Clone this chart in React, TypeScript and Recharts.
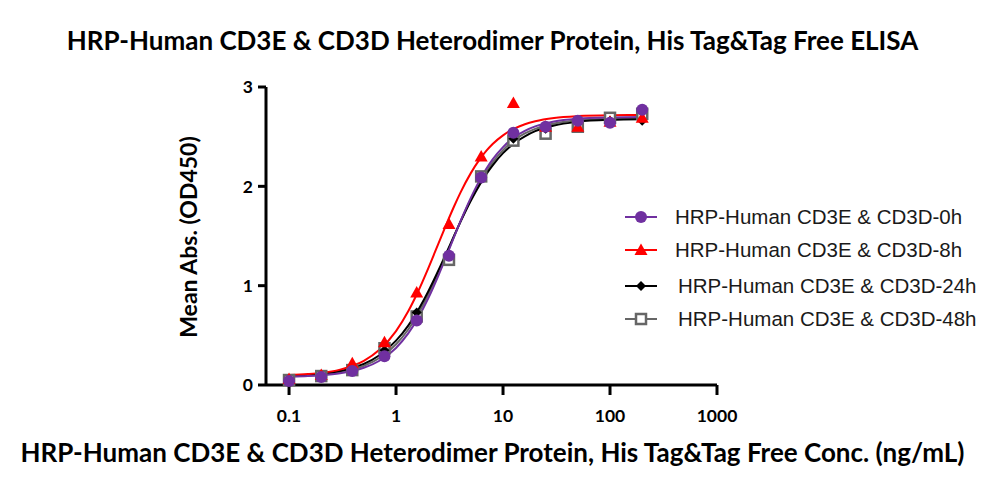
import {
  ComposedChart,
  Line,
  Scatter,
  XAxis,
  YAxis,
  Legend,
} from 'recharts'

// concentrations (ng/mL), 2-fold dilutions
const conc = [0.1, 0.2, 0.39, 0.78, 1.56, 3.125, 6.25, 12.5, 25, 50, 100, 200]

// measured mean OD450
const od0h = [0.04, 0.08, 0.14, 0.29, 0.65, 1.3, 2.09, 2.54, 2.6, 2.66, 2.64, 2.77]
const od8h = [0.06, 0.1, 0.22, 0.43, 0.93, 1.62, 2.3, 2.84, 2.6, 2.6, 2.65, 2.69]
const od24h = [0.05, 0.09, 0.16, 0.35, 0.73, 1.3, 2.08, 2.48, 2.58, 2.64, 2.66, 2.66]
const od48h = [0.05, 0.09, 0.15, 0.37, 0.69, 1.26, 2.1, 2.46, 2.53, 2.6, 2.69, 2.73]

// fitted curves
const fitX = [0.1, 0.15, 0.2, 0.3, 0.4, 0.5, 0.7, 1, 1.3, 1.6, 2, 2.5, 3, 3.5, 4, 5, 6, 7, 8, 10, 13, 16, 20, 30, 50, 100, 200]
const fit0h = [0.085, 0.091, 0.099, 0.118, 0.143, 0.173, 0.244, 0.373, 0.519, 0.671, 0.872, 1.107, 1.315, 1.495, 1.647, 1.884, 2.055, 2.179, 2.271, 2.395, 2.501, 2.559, 2.603, 2.652, 2.68, 2.693, 2.697]
const fit8h = [0.1, 0.11, 0.122, 0.155, 0.196, 0.244, 0.354, 0.543, 0.742, 0.936, 1.174, 1.428, 1.635, 1.802, 1.937, 2.133, 2.266, 2.359, 2.426, 2.513, 2.585, 2.625, 2.655, 2.688, 2.707, 2.716, 2.718]
const fit24h = [0.091, 0.1, 0.112, 0.141, 0.175, 0.213, 0.3, 0.446, 0.598, 0.75, 0.942, 1.158, 1.346, 1.506, 1.642, 1.855, 2.009, 2.125, 2.212, 2.334, 2.442, 2.504, 2.555, 2.613, 2.65, 2.67, 2.676]
const fit48h = [0.088, 0.096, 0.106, 0.13, 0.159, 0.193, 0.272, 0.41, 0.559, 0.711, 0.907, 1.133, 1.33, 1.5, 1.645, 1.87, 2.032, 2.152, 2.242, 2.365, 2.472, 2.532, 2.579, 2.633, 2.665, 2.682, 2.687]

const xTicks = [0.1, 1, 10, 100, 1000]
const yTicks = [0, 1, 2, 3]

const seriesNames = [
  'HRP-Human CD3E & CD3D-0h',
  'HRP-Human CD3E & CD3D-8h',
  'HRP-Human CD3E & CD3D-24h',
  'HRP-Human CD3E & CD3D-48h',
]

const PURPLE = '#7030a0'
const RED = '#ff0000'
const BLACK = '#000000'
const GRAY = '#666666'

const toPoints = (xs: number[], ys: number[]) => xs.map((x, i) => ({ x, y: ys[i] }))

const Circle = (p: any) => <circle cx={p.cx} cy={p.cy} r={6} fill={PURPLE} />
const Triangle = (p: any) => (
  <path d={`M${p.cx},${p.cy - 6.5} L${p.cx + 6.5},${p.cy + 5} L${p.cx - 6.5},${p.cy + 5} Z`} fill={RED} />
)
const Diamond = (p: any) => (
  <path d={`M${p.cx},${p.cy - 5} L${p.cx + 5},${p.cy} L${p.cx},${p.cy + 5} L${p.cx - 5},${p.cy} Z`} fill={BLACK} />
)
const Square = (p: any) => (
  <rect x={p.cx - 5} y={p.cy - 5} width={10} height={10} fill="#fff" stroke={GRAY} strokeWidth={2.5} />
)

const markers = [
  { color: PURPLE, shape: Circle, textX: 55 },
  { color: RED, shape: Triangle, textX: 55 },
  { color: BLACK, shape: Diamond, textX: 58 },
  { color: GRAY, shape: Square, textX: 58 },
]
const legendRows = [217, 250, 286, 319]

function LegendBox() {
  return (
    <svg width={380} height={150} style={{ overflow: 'visible' }}>
      {seriesNames.map((name, i) => {
        const m = markers[i]
        const cy = legendRows[i] - 200
        const Shape = m.shape
        return (
          <g key={name}>
            <line x1={5} x2={37} y1={cy} y2={cy} stroke={m.color} strokeWidth={2} />
            <Shape cx={21} cy={cy} />
            <text
              x={m.textX}
              y={cy + 7}
              fontFamily="'Liberation Sans', Arial, sans-serif"
              fontSize={20.5}
              fill="#1a1a1a"
            >
              {name}
            </text>
          </g>
        )
      })}
    </svg>
  )
}

const axisFont = {
  fontFamily: 'Lato, sans-serif',
  fontWeight: 700,
  fontSize: 17.5,
  fill: '#000',
}

export default function App() {
  return (
    <div style={{ position: 'absolute', left: 0, top: 0, width: 1000, height: 492, background: '#fff' }}>
      <div
        style={{
          position: 'absolute',
          top: 24,
          left: 0,
          width: 985,
          textAlign: 'center',
          fontFamily: 'Lato, sans-serif',
          fontWeight: 700,
          fontSize: 26,
          color: '#000',
        }}
      >
        HRP-Human CD3E &amp; CD3D Heterodimer Protein, His Tag&amp;Tag Free ELISA
      </div>
      <ComposedChart
        width={1000}
        height={492}
        margin={{ top: 87, right: 283, bottom: 47, left: 206 }}
      >
        <XAxis
          dataKey="x"
          type="number"
          scale="log"
          domain={[0.0609, 1000]}
          allowDataOverflow
          ticks={xTicks}
          tickFormatter={(v: number) => String(v)}
          height={60}
          axisLine={{ stroke: '#000', strokeWidth: 3 }}
          tickLine={{ stroke: '#000', strokeWidth: 3 }}
          tickSize={10}
          tickMargin={15}
          tick={axisFont}
        />
        <YAxis
          type="number"
          domain={[0, 3]}
          ticks={yTicks}
          width={60}
          axisLine={{ stroke: '#000', strokeWidth: 3 }}
          tickLine={{ stroke: '#000', strokeWidth: 3 }}
          tickSize={8}
          tickMargin={5}
          tick={axisFont}
        />
        <Legend
          layout="vertical"
          align="center"
          verticalAlign="middle"
          wrapperStyle={{ left: 620, top: 200, width: 380 }}
          content={() => <LegendBox />}
        />
        <Line data={toPoints(fitX, fit48h)} dataKey="y" type="monotone" stroke={GRAY} strokeWidth={2} dot={false} isAnimationActive={false} />
        <Line data={toPoints(fitX, fit24h)} dataKey="y" type="monotone" stroke={BLACK} strokeWidth={2} dot={false} isAnimationActive={false} />
        <Line data={toPoints(fitX, fit8h)} dataKey="y" type="monotone" stroke={RED} strokeWidth={2} dot={false} isAnimationActive={false} />
        <Line data={toPoints(fitX, fit0h)} dataKey="y" type="monotone" stroke={PURPLE} strokeWidth={2} dot={false} isAnimationActive={false} />
        <Scatter data={toPoints(conc, od48h)} dataKey="y" shape={Square} isAnimationActive={false} />
        <Scatter data={toPoints(conc, od24h)} dataKey="y" shape={Diamond} isAnimationActive={false} />
        <Scatter data={toPoints(conc, od8h)} dataKey="y" shape={Triangle} isAnimationActive={false} />
        <Scatter data={toPoints(conc, od0h)} dataKey="y" shape={Circle} isAnimationActive={false} />
      </ComposedChart>
      <div
        style={{
          position: 'absolute',
          left: 188,
          top: 237,
          transform: 'translate(-50%, -50%) rotate(-90deg)',
          whiteSpace: 'nowrap',
          fontFamily: 'Lato, sans-serif',
          fontWeight: 700,
          fontSize: 23,
          color: '#000',
        }}
      >
        Mean Abs. (OD450)
      </div>
      <div
        style={{
          position: 'absolute',
          top: 436,
          left: 0,
          width: 985,
          textAlign: 'center',
          fontFamily: 'Lato, sans-serif',
          fontWeight: 700,
          fontSize: 26,
          color: '#000',
        }}
      >
        HRP-Human CD3E &amp; CD3D Heterodimer Protein, His Tag&amp;Tag Free Conc. (ng/mL)
      </div>
    </div>
  )
}
